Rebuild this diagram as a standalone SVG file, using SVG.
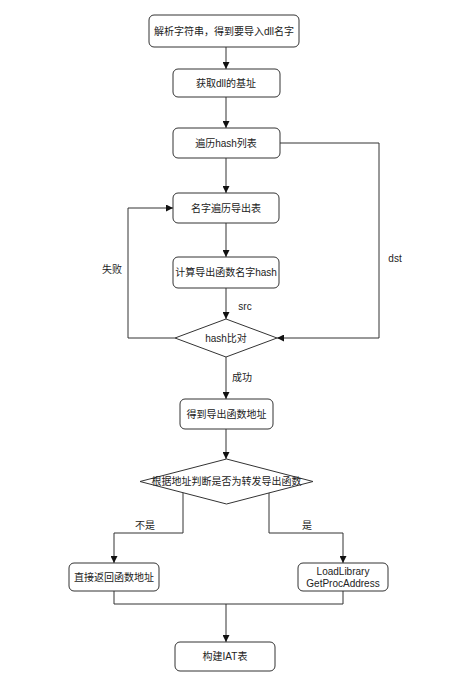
<svg xmlns="http://www.w3.org/2000/svg" width="474" height="692" viewBox="0 0 474 692">
<defs>
<style>
.n{fill:#fff;stroke:#333;stroke-width:1}
.t{font-family:"Liberation Sans","Noto Sans CJK SC",sans-serif;font-size:10px;fill:#222;text-anchor:middle;dominant-baseline:central}
.c{fill:none;stroke:#333;stroke-width:1}
</style>
<marker id="a" viewBox="0 0 10 10" refX="10" refY="5" markerWidth="7" markerHeight="7" orient="auto" markerUnits="userSpaceOnUse">
<path d="M0,0 L10,5 L0,10 Z" fill="#111"/>
</marker>
</defs>
<rect width="474" height="692" fill="#fff"/>
<g id="connectors">
<path class="c" d="M226,47 V69" marker-end="url(#a)"/>
<path class="c" d="M226,97 V128" marker-end="url(#a)"/>
<path class="c" d="M226,158 V193" marker-end="url(#a)"/>
<path class="c" d="M226,223 V257" marker-end="url(#a)"/>
<path class="c" d="M226,288 V319" marker-end="url(#a)"/>
<path class="c" d="M280,143 H379 V338 H277" marker-end="url(#a)"/>
<path class="c" d="M175,338 H128 V208 H173" marker-end="url(#a)"/>
<path class="c" d="M226,357 V399" marker-end="url(#a)"/>
<path class="c" d="M226,429 V459" marker-end="url(#a)"/>
<path class="c" d="M183,492 V533 H114 V563" marker-end="url(#a)"/>
<path class="c" d="M269,492 V533 H343 V563" marker-end="url(#a)"/>
<path class="c" d="M114,591 V604 H343 V591"/>
<path class="c" d="M226,604 V642" marker-end="url(#a)"/>
<text class="t" x="245" y="306">src</text>
<text class="t" x="395" y="258">dst</text>
<text class="t" x="112" y="269">失败</text>
<text class="t" x="242" y="377">成功</text>
<text class="t" x="145" y="525">不是</text>
<text class="t" x="307" y="525">是</text>
</g>
<g id="n1"><rect class="n" x="149" y="15" width="150" height="32" rx="5"/><text class="t" x="224" y="31">解析字符串，得到要导入dll名字</text></g>
<g id="n2"><rect class="n" x="173" y="69" width="107" height="28" rx="5"/><text class="t" x="226" y="83">获取dll的基址</text></g>
<g id="n3"><rect class="n" x="173" y="128" width="107" height="30" rx="5"/><text class="t" x="226" y="143">遍历hash列表</text></g>
<g id="n4"><rect class="n" x="173" y="193" width="106" height="30" rx="5"/><text class="t" x="226" y="208">名字遍历导出表</text></g>
<g id="n5"><rect class="n" x="173" y="257" width="106" height="31" rx="5"/><text class="t" x="226" y="272.5">计算导出函数名字hash</text></g>
<g id="n6"><path class="n" d="M226,319 L277,338 L226,357 L175,338 Z"/><text class="t" x="226" y="338">hash比对</text></g>
<g id="n7"><rect class="n" x="180" y="399" width="93" height="30" rx="5"/><text class="t" x="226.5" y="414">得到导出函数地址</text></g>
<g id="n8"><path class="n" d="M226.5,459 L313,481.5 L226.5,504 L140,481.5 Z"/><text class="t" x="226.5" y="481.5">根据地址判断是否为转发导出函数</text></g>
<g id="n9"><rect class="n" x="69" y="563" width="90" height="28" rx="5"/><text class="t" x="114" y="577">直接返回函数地址</text></g>
<g id="n10"><rect class="n" x="298" y="563" width="90" height="28" rx="5"/><text class="t" x="343" y="571">LoadLibrary</text><text class="t" x="343" y="583">GetProcAddress</text></g>
<g id="n11"><rect class="n" x="175" y="642" width="100" height="29" rx="5"/><text class="t" x="225" y="656.5">构建IAT表</text></g>
</svg>
